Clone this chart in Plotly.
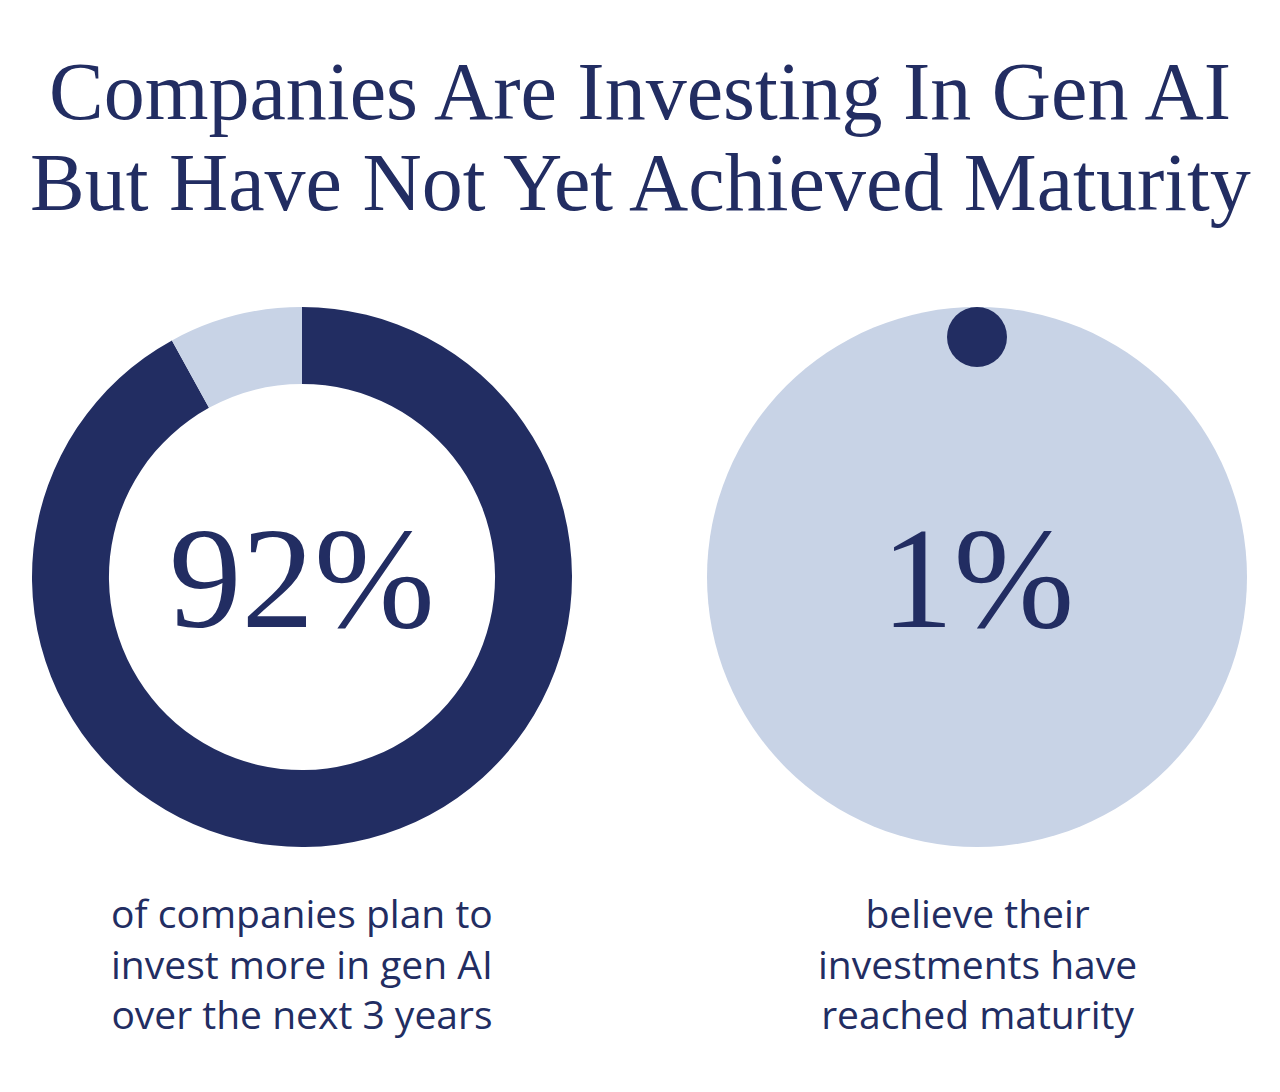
import plotly.graph_objects as go

# Data
left_labels = ["Plan to invest more", "Other"]
left_values = [92, 8]
right_labels = ["Reached maturity", "Not yet"]
right_values = [1, 99]
big_numbers = ["92%", "1%"]
captions = [
    "of companies plan to<br>invest more in gen AI<br>over the next 3 years",
    "believe their<br>investments have<br>reached maturity",
]
title_lines = ["Companies Are Investing In Gen AI", "But Have Not Yet Achieved Maturity"]

DARK = "#222D62"
LIGHT = "#C8D3E6"
OFF = 8                     # page body margin
W, H = 1280 - OFF, 1092 - OFF


def px(x0, x1):
    return [(x0 - OFF) / W, (x1 - OFF) / W]


def py(y0, y1):  # screen top/bottom -> paper
    return [(H - (y1 - OFF)) / H, (H - (y0 - OFF)) / H]


fig = go.Figure()

# Left donut
fig.add_trace(go.Pie(
    labels=left_labels, values=left_values, hole=0.715, sort=False,
    direction="clockwise", rotation=0,
    marker=dict(colors=[DARK, LIGHT], line=dict(width=0)),
    textinfo="none", hoverinfo="label+percent", showlegend=False,
    domain=dict(x=px(32, 572), y=py(307, 847)),
))

# Right full circle (the 99%)
fig.add_trace(go.Pie(
    labels=[right_labels[1]], values=[right_values[1]], sort=False,
    marker=dict(colors=[LIGHT], line=dict(width=0)),
    textinfo="none", hoverinfo="label", showlegend=False,
    domain=dict(x=px(707, 1247), y=py(307, 847)),
))

# Right dot (the 1%)
fig.add_trace(go.Pie(
    labels=[right_labels[0]], values=[right_values[0]], sort=False,
    marker=dict(colors=[DARK], line=dict(width=0)),
    textinfo="none", hoverinfo="label", showlegend=False,
    domain=dict(x=px(947, 1007), y=py(307, 367)),
))

annotations = []


def sx(x):
    return (x - OFF) / W


def sy(y):
    return (H - (y - OFF)) / H


# Title
for i, line in enumerate(title_lines):
    annotations.append(dict(
        text=line, x=sx(640), y=sy(92 + 90 * i), xref="paper", yref="paper",
        showarrow=False, font=dict(family="Liberation Serif", size=82, color=DARK),
        xanchor="center", yanchor="middle",
    ))
# Big numbers
for xc, t in zip([302, 977], big_numbers):
    annotations.append(dict(
        text=t, x=sx(xc), y=sy(578), xref="paper", yref="paper", showarrow=False,
        font=dict(family="Liberation Serif", size=145, color=DARK),
        xanchor="center", yanchor="middle",
    ))
# Captions
for xc, t in zip([302, 977], captions):
    annotations.append(dict(
        text=t, x=sx(xc), y=sy(963), xref="paper", yref="paper", showarrow=False,
        font=dict(family="Open Sans", size=39, color=DARK),
        xanchor="center", yanchor="middle", align="center",
    ))

fig.update_layout(
    width=W, height=H, margin=dict(l=0, r=0, t=0, b=0),
    paper_bgcolor="white", plot_bgcolor="rgba(0,0,0,0)",
    annotations=annotations,
)

fig.write_html("out.html")
